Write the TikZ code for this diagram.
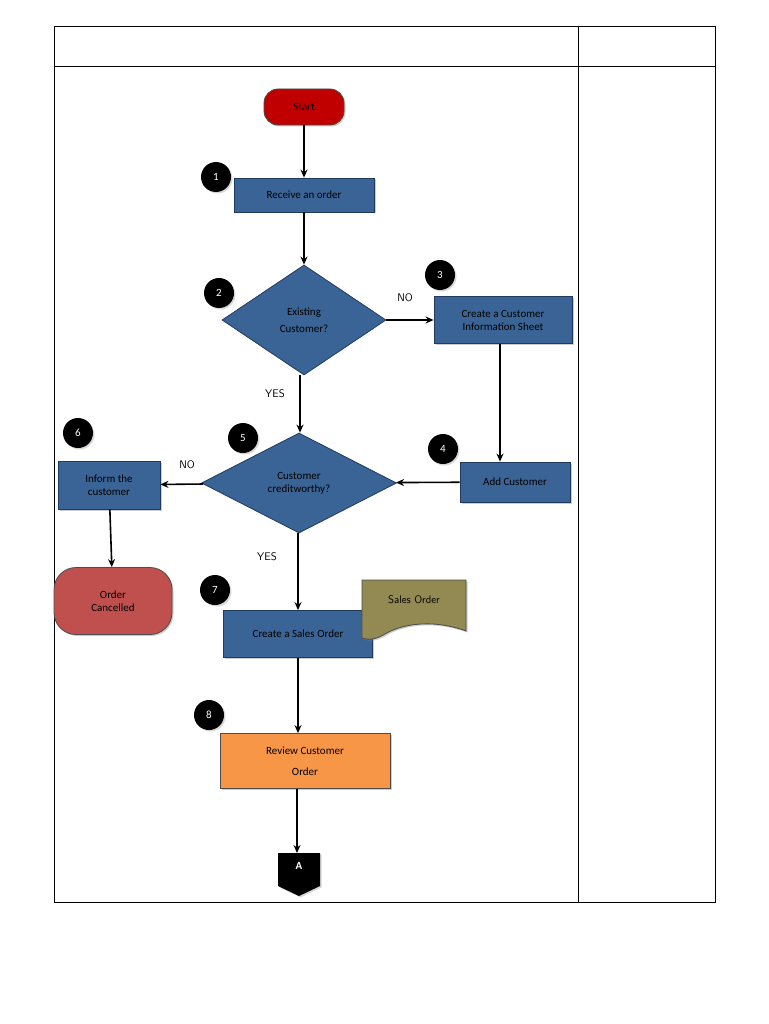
\documentclass[tikz,border=0pt]{standalone}
\usepackage{fontspec}
\setmainfont{Carlito}
\usetikzlibrary{shapes.geometric,shadows,arrows.meta}
\definecolor{stb}{HTML}{3B6496}
\definecolor{stbd}{HTML}{1F3A5C}
\definecolor{redS}{HTML}{C00000}
\definecolor{redO}{HTML}{C0504D}
\definecolor{oliv}{HTML}{938953}
\definecolor{orng}{HTML}{F79646}
\begin{document}
\begin{tikzpicture}[x=1pt,y=-1pt,
  every node/.style={font=\fontsize{11}{13}\selectfont},
  box/.style={draw=stbd,fill=stb,line width=0.8pt,drop shadow={opacity=0.4,shadow xshift=1.5pt,shadow yshift=-1.5pt},align=center,inner sep=0pt},
  dia/.style={diamond,draw=stbd,fill=stb,line width=0.8pt,aspect=1.5,inner sep=0pt,align=center},
  num/.style={circle,fill=black,text=white,minimum size=30pt,inner sep=0pt,drop shadow={opacity=0.3,shadow xshift=1.5pt,shadow yshift=-1.5pt}},
  arr/.style={-{Stealth[length=8pt,width=7pt]},line width=1.6pt},
  lab/.style={font=\fontsize{11}{13}\selectfont\sffamily}]
\useasboundingbox (0,0) rectangle (768,1024);
\fill[white] (0,0) rectangle (768,1024);
% table
\draw[line width=0.8pt] (54,26) rectangle (715,902);
\draw[line width=0.8pt] (54,66) -- (715,66);
\draw[line width=0.8pt] (578,26) -- (578,902);
% nodes
\node[box,fill=redS,draw=black!70,rounded corners=14pt,minimum width=80pt,minimum height=36pt] (start) at (304,107) {Start};
\node[box,minimum width=140pt,minimum height=34pt] (recv) at (304,195) {Receive an order};
\node[dia,minimum width=164pt,minimum height=110pt] (d2) at (304,320) {Existing\\[4pt]Customer?};
\node[box,minimum width=138pt,minimum height=47pt] (cis) at (503,320) {Create a Customer\\Information Sheet};
\node[box,minimum width=110pt,minimum height=40pt] (add) at (515,482) {Add Customer};
\node[dia,minimum width=195pt,minimum height=100pt] (d5) at (299,483) {Customer\\creditworthy?};
\node[box,minimum width=102pt,minimum height=48pt] (inf) at (109,485) {Inform the\\customer};
\node[box,fill=redO,draw=black!70,rounded corners=22pt,minimum width=118pt,minimum height=67pt] (canc) at (113,601) {Order\\Cancelled};
\node[box,minimum width=149pt,minimum height=47pt] (so) at (298,634) {Create a Sales Order};
\path[fill=oliv,draw=black!70,line width=0.8pt,drop shadow={opacity=0.4,shadow xshift=1.5pt,shadow yshift=-1.5pt}]
  (362,580) -- (466,580) -- (466,631) .. controls (430,618) and (400,625) .. (385,634) .. controls (375,640) and (368,640) .. (362,638) -- cycle;
\node[lab] (sodoc) at (414,600) {Sales Order};
\node[box,fill=orng,draw=black!70,minimum width=170pt,minimum height=55pt] (rev) at (305,761) {Review Customer\\[8pt]Order};
\path[fill=black,drop shadow={opacity=0.3,shadow xshift=1.5pt,shadow yshift=-1.5pt}] (278,853) -- (320,853) -- (320,886) -- (299,896) -- (278,886) -- cycle;
\node[text=white,font=\bfseries\fontsize{11}{13}\selectfont] (A) at (299,866) {A};
\coordinate (Atop) at (297,853);
% numbers
\node[num] at (216,177) {1};
\node[num] at (219,293) {2};
\node[num] at (440,275) {3};
\node[num] at (443,449) {4};
\node[num] at (243,438) {5};
\node[num] at (78,433) {6};
\node[num] at (215,590) {7};
\node[num] at (209,715) {8};
% labels
\node[lab] at (405,298) {NO};
\node[lab] at (275,394) {YES};
\node[lab] at (187,465) {NO};
\node[lab] at (267,557) {YES};
% arrows
\draw[arr] (start) -- (recv);
\draw[arr] (recv) -- (d2);
\draw[arr] (d2) -- (cis);
\draw[arr] (cis.south -| 500,0) -- (add.north -| 500,0);
\draw[arr] (add) -- (d5);
\draw[arr] (d5) -- (inf);
\draw[arr] (inf) -- (canc);
\draw[arr] (d2.south -| 300,0) -- (d5.north -| 300,0);
\draw[arr] (d5.south -| 298,0) -- (so.north -| 298,0);
\draw[arr] (so.south -| 298,0) -- (rev.north -| 298,0);
\draw[arr] (rev.south -| 297,0) -- (Atop);
\end{tikzpicture}
\end{document}
